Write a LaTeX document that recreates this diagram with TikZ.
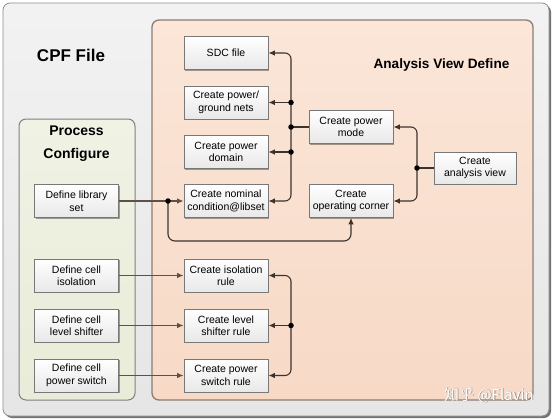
\documentclass[tikz,border=0pt]{standalone}
\usepackage{fontspec}
\setmainfont{Liberation Sans}
\newfontfamily\cjkfont{Noto Sans CJK SC}
\usetikzlibrary{arrows.meta,shadows}
\definecolor{conn}{RGB}{62,50,44}
\definecolor{conn2}{RGB}{95,80,72}
\definecolor{panelborder}{RGB}{140,125,116}
\definecolor{boxborder}{RGB}{120,120,120}
\tikzset{
  stepbox/.style={draw=boxborder, line width=0.8pt, top color=white, bottom color=black!9,
    minimum width=84pt, minimum height=33pt, inner sep=1pt, align=center,
    font=\fontsize{10.5}{12.5}\selectfont,
    drop shadow={shadow xshift=1.2pt, shadow yshift=-1.2pt, opacity=0.35, fill=black}},
  line/.style={draw=conn, line width=1.1pt},
  arr/.style={line, -{Latex[length=6.5pt,width=5.5pt]}},
  arrb/.style={draw=conn2, line width=1.1pt, -{Latex[length=6.5pt,width=5.5pt]}},
  dot/.style={circle, fill=black, inner sep=0pt, minimum size=5.5pt},
  title/.style={font=\bfseries\fontsize{13.6}{16}\selectfont},
  wmark/.style={font=\cjkfont\fontsize{15}{17}\selectfont},
}
\begin{document}
\begin{tikzpicture}[x=1pt,y=-1pt]
\useasboundingbox (0,0) rectangle (554,420);
% outer panel
\fill[black!55, rounded corners=7] (5,5) rectangle (551,418);
\draw[draw=black!45, line width=0.8pt, top color=black!5, bottom color=black!10, rounded corners=7] (3,3) rectangle (549,416);
% analysis panel
\draw[draw=panelborder, line width=1.3pt, top color={rgb,255:red,251;green,230;blue,216}, bottom color={rgb,255:red,247;green,217;blue,198}, rounded corners=7] (152,20) rectangle (533,400);
% process panel
\draw[draw=black!50, line width=1pt, top color={rgb,255:red,240;green,242;blue,228}, bottom color={rgb,255:red,232;green,236;blue,216}, rounded corners=7] (19,119) rectangle (135,400);
% titles
\node[font=\bfseries\fontsize{17}{20}\selectfont] (cpf) at (71,55) {CPF File};
\node[font=\bfseries\fontsize{14}{17}\selectfont] (proc) at (76.5,131) {Process};
\node[font=\bfseries\fontsize{14}{17}\selectfont] (conf) at (76.5,155) {Configure};
\node[title] (avd) at (441.5,65) {Analysis View Define};
% boxes
\node[stepbox] (sdc) at (226,53) {SDC file};
\node[stepbox] (pg) at (226,102.5) {Create power/\\ground nets};
\node[stepbox] (pd) at (226,152) {Create power\\domain};
\node[stepbox] (nom) at (226,201) {Create nominal\\condition@libset};
\node[stepbox] (pm) at (351,127) {Create power\\mode};
\node[stepbox] (oc) at (351,201) {Create\\operating corner};
\node[stepbox, minimum width=82pt, minimum height=32pt] (av) at (475,168) {Create\\analysis view};
\node[stepbox] (dls) at (76.5,201) {Define library\\set};
\node[stepbox] (dci) at (76.5,275.5) {Define cell\\isolation};
\node[stepbox] (dcl) at (76.5,325.5) {Define cell\\level shifter};
\node[stepbox] (dcp) at (76.5,375.5) {Define cell\\power switch};
\node[stepbox] (ir) at (226,275.5) {Create isolation\\rule};
\node[stepbox] (lr) at (226,325.5) {Create level\\shifter rule};
\node[stepbox] (pr) at (226,375.5) {Create power\\switch rule};
% left bus
\coordinate (b1) at (291,127);
\draw[line] (pm.west) -- (b1);
\draw[arr, rounded corners=6] (b1) |- (sdc.east);
\draw[arr, rounded corners=6] (b1) |- (nom.east);
\draw[arr] (b1 |- pg.east) -- (pg.east);
\draw[arr] (b1 |- pd.east) -- (pd.east);
\node[dot] (d1) at (b1) {};
\node[dot] (d2) at (b1 |- pg.east) {};
\node[dot] (d3) at (b1 |- pd.east) {};
% right bus
\coordinate (b2) at (417,168);
\draw[line] (av.west) -- (b2);
\draw[arr, rounded corners=6] (b2) |- (pm.east);
\draw[arr, rounded corners=6] (b2) |- (oc.east);
\node[dot] (d4) at (b2) {};
% library set
\coordinate (b3) at (168,201);
\coordinate (b3low) at (168,241);
\draw[arrb] (dls.east) -- (nom.west);
\draw[arr, rounded corners=7] (b3) -- (b3low) -| (oc.south);
\node[dot] (d5) at (b3) {};
% cell rules
\draw[arrb] (dci.east) -- (ir.west);
\draw[arrb] (dcl.east) -- (lr.west);
\draw[arrb] (dcp.east) -- (pr.west);
\coordinate (b4) at (291,325.5);
\draw[arr] (b4) -- (lr.east);
\draw[arr, rounded corners=6] (b4) |- (ir.east);
\draw[arr, rounded corners=6] (b4) |- (pr.east);
\node[dot] (d6) at (b4) {};
% watermark
\node[text=black!45, wmark] (wms) at (489.8,395.8) {知乎 @Flavin};
\node[text=white, wmark] (wm) at (489,395) {知乎 @Flavin};
\end{tikzpicture}
\end{document}
